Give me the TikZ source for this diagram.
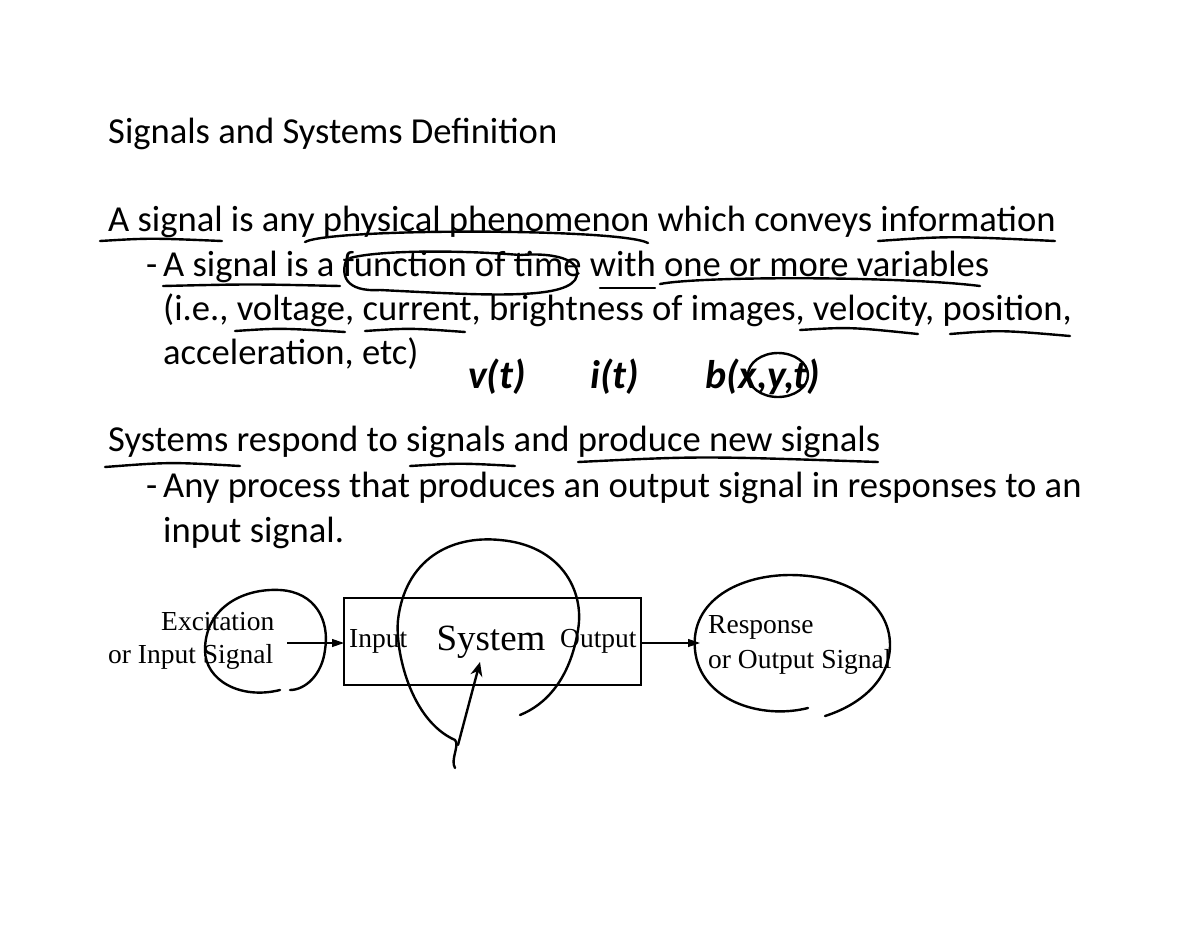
\documentclass[tikz,border=0pt]{standalone}
\usepackage{fontspec}
\setmainfont{Carlito}
\newfontfamily\tms{Liberation Serif}
\usetikzlibrary{arrows.meta}
\begin{document}
\begin{tikzpicture}[x=1pt,y=-1pt,
  txt/.style={anchor=base west,inner sep=0pt,font=\fontsize{36.6}{40}\selectfont},
  dtxt/.style={anchor=base west,inner sep=0pt,font=\tms\fontsize{27.5}{30}\selectfont},
  hand/.style={line width=2.4pt,line cap=round,line join=round},
  hw/.style={anchor=base west,inner sep=0pt,font=\itshape\bfseries\fontsize{40}{42}\selectfont}]
\useasboundingbox[fill=white] (0,0) rectangle (1200,927);
\node[txt] (t0) at (108,143) {Signals and Systems Definition};
\node[txt] (t1) at (108,231) {A signal is any physical phenomenon which conveys information};
\node[txt] (d1) at (146,276) {-};
\node[txt] (t2) at (163,276) {A signal is a function of time with one or more variables};
\node[txt] (t3) at (163,320) {(i.e., voltage, current, brightness of images, velocity, position,};
\node[txt] (t4) at (163,364) {acceleration, etc)};
\node[txt] (t5) at (108,451) {Systems respond to signals and produce new signals};
\node[txt] (d2) at (146,497) {-};
\node[txt] (t6) at (163,497) {Any process that produces an output signal in responses to an};
\node[txt] (t7) at (163,542) {input signal.};
% diagram
\draw[line width=1.2pt] (344,598) rectangle (641,685);
\coordinate (bl) at (344,643); \coordinate (br) at (641,643);
\coordinate (al) at (287,643); \coordinate (ar) at (700,643);
\draw[line width=1.2pt,-{Triangle[length=12pt,width=8pt]}] (al) -- (bl);
\draw[line width=1.2pt,-{Triangle[length=12pt,width=8pt]}] (br) -- (ar);
\node[dtxt] (e1) at (161,630) {Excitation};
\node[dtxt] (e2) at (108,663) {or Input Signal};
\node[dtxt] (in) at (349,647) {Input};
\node[anchor=base,inner sep=0pt,font=\tms\fontsize{37}{40}\selectfont] (sy) at (491,650) {System};
\node[dtxt] (out) at (560,647) {Output};
\node[dtxt] (r1) at (708,633) {Response};
\node[dtxt] (r2) at (708,668) {or Output Signal};
% handwritten text
\node[hw] (v) at (468,388) {v(t)};
\node[hw] (i) at (590,388) {i(t)};
\node[hw] (b) at (705,388) {b(x,y,t)};
\draw[hand] (778,375) ellipse (30 and 22);
% underlines
\draw[hand] (100,241) .. controls (150,238) .. (222,241);
\draw[hand] (305,242) .. controls (330,228) and (620,228) .. (648,243);
\draw[hand] (878,241) .. controls (950,236) .. (1055,241);
\draw[hand] (163,286) .. controls (250,284) .. (340,286);
\draw[hand] (347,258) .. controls (340,275) and (345,292) .. (380,290) .. controls (480,295) and (560,300) .. (575,280) .. controls (585,262) and (560,252) .. (520,255) .. controls (460,250) and (380,250) .. (350,258);
\draw[hand] (600,288) -- (655,288);
\draw[hand] (660,284) .. controls (700,276) and (900,276) .. (980,286);
\draw[hand] (235,331) .. controls (280,328) .. (345,332);
\draw[hand] (365,331) .. controls (410,328) .. (465,332);
\draw[hand] (800,330) .. controls (850,327) .. (918,334);
\draw[hand] (950,334) .. controls (1000,330) .. (1070,336);
\draw[hand] (105,467) .. controls (170,462) .. (240,466);
\draw[hand] (410,466) .. controls (460,463) .. (515,466);
\draw[hand] (578,462) .. controls (700,456) .. (878,462);
% circles
\draw[hand] (280,690) .. controls (240,700) and (205,680) .. (205,650) .. controls (205,610) and (240,588) .. (280,590) .. controls (315,592) and (330,620) .. (325,650) .. controls (322,675) and (305,690) .. (290,690);
\draw[hand] (455,768) .. controls (450,760) and (460,745) .. (455,740) .. controls (410,720) and (395,650) .. (398,620) .. controls (405,560) and (450,535) .. (500,540) .. controls (560,545) and (585,590) .. (578,630) .. controls (570,680) and (545,705) .. (520,715);
\draw[hand,-{Stealth[length=14pt,width=12pt]}] (458,745) -- (480,662);
\draw[hand] (808,708) .. controls (760,720) and (700,700) .. (695,650) .. controls (690,600) and (740,575) .. (790,575) .. controls (850,575) and (890,605) .. (890,645) .. controls (890,680) and (860,705) .. (825,716);
\end{tikzpicture}
\end{document}
